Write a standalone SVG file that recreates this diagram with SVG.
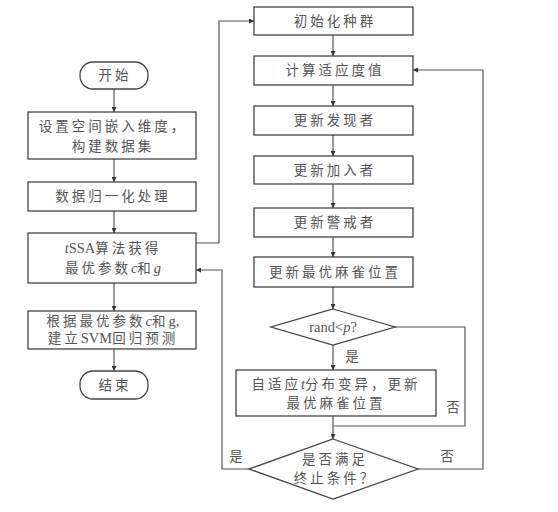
<svg xmlns="http://www.w3.org/2000/svg" width="558" height="512" viewBox="0 0 558 512">
<defs>
<marker id="arr" viewBox="0 0 8 8" refX="8" refY="4" markerWidth="5" markerHeight="5" orient="auto" markerUnits="userSpaceOnUse">
<path d="M0,0 L8,4 L0,8 z" fill="#333"/>
</marker>
<style>
.box{fill:#fff;stroke:#444;stroke-width:1.3}
.ln{fill:none;stroke:#555;stroke-width:1.2}
.ar{fill:none;stroke:#555;stroke-width:1.2;marker-end:url(#arr)}
text{font-family:"Liberation Serif","Noto Sans CJK SC",serif;font-size:13.5px;fill:#555;text-anchor:middle;letter-spacing:3px}
.lab{letter-spacing:0}
.l{letter-spacing:0;font-size:14.5px}
.i{font-style:italic;letter-spacing:0;font-size:14.5px}
</style>
</defs>
<rect width="558" height="512" fill="#fff"/>
<g id="connectors">
<line class="ar" x1="114" y1="89" x2="114" y2="112"/>
<line class="ar" x1="114" y1="159" x2="114" y2="182"/>
<line class="ar" x1="114" y1="211" x2="114" y2="233"/>
<line class="ar" x1="114" y1="283" x2="114" y2="311"/>
<line class="ar" x1="114" y1="349" x2="114" y2="371"/>
<polyline class="ar" points="196,243 219,243 219,21 254,21"/>
<line class="ar" x1="333" y1="35" x2="333" y2="56"/>
<line class="ar" x1="333" y1="85" x2="333" y2="106"/>
<line class="ar" x1="333" y1="135" x2="333" y2="156"/>
<line class="ar" x1="333" y1="184" x2="333" y2="208"/>
<line class="ar" x1="333" y1="237" x2="333" y2="257"/>
<line class="ar" x1="333" y1="287" x2="333" y2="309"/>
<line class="ar" x1="333" y1="345" x2="333" y2="370"/>
<polyline class="ln" points="395,327 465,327 465,426 333,426"/>
<line class="ar" x1="333" y1="416" x2="333" y2="439"/>
<polyline class="ar" points="249,469 222,469 222,270 196,270"/>
<polyline class="ar" points="418,469 483,469 483,70 413,70"/>
<text class="lab" x="352" y="361">是</text>
<text class="lab" x="453" y="412">否</text>
<text class="lab" x="236" y="461">是</text>
<text class="lab" x="447" y="461">否</text>
</g>
<g id="start"><rect class="box" x="80" y="62" width="68" height="27" rx="13"/><text x="115" y="80">开始</text></g>
<g id="setdim"><rect class="box" x="28" y="112" width="168" height="47"/><text x="113" y="131">设置空间嵌入维度，</text><text x="113" y="151">构建数据集</text></g>
<g id="normalize"><rect class="box" x="28" y="182" width="168" height="29"/><text x="113" y="201">数据归一化处理</text></g>
<g id="tssa"><rect class="box" x="28" y="233" width="168" height="50"/><text x="113" y="253"><tspan class="i">t</tspan><tspan class="l">SSA</tspan>算法获得</text><text x="113" y="273">最优参数<tspan class="i">c</tspan>和<tspan class="i">g</tspan></text></g>
<g id="svm"><rect class="box" x="28" y="311" width="168" height="38"/><text x="113" y="326">根据最优参数<tspan class="i">c</tspan>和<tspan class="l">g,</tspan></text><text x="113" y="343">建立<tspan class="l">SVM</tspan>回归预测</text></g>
<g id="end"><rect class="box" x="80" y="371" width="68" height="28" rx="13"/><text x="115" y="390">结束</text></g>
<g id="init"><rect class="box" x="254" y="7" width="159" height="28"/><text x="335" y="26">初始化种群</text></g>
<g id="fitness"><rect class="box" x="254" y="56" width="159" height="29"/><text x="335" y="75">计算适应度值</text></g>
<g id="discover"><rect class="box" x="254" y="106" width="159" height="29"/><text x="335" y="125">更新发现者</text></g>
<g id="joiner"><rect class="box" x="254" y="156" width="159" height="28"/><text x="335" y="175">更新加入者</text></g>
<g id="guard"><rect class="box" x="254" y="208" width="159" height="29"/><text x="335" y="227">更新警戒者</text></g>
<g id="best"><rect class="box" x="254" y="257" width="159" height="30"/><text x="335" y="277">更新最优麻雀位置</text></g>
<g id="randp"><polygon class="box" points="333,309 395,327 333,345 271,327"/><text class="lab" x="333" y="332" style="font-size:14.5px">rand&lt;<tspan font-style="italic">p</tspan>?</text></g>
<g id="mutate"><rect class="box" x="236" y="370" width="200" height="46"/><text x="336" y="389">自适应<tspan class="i">t</tspan>分布变异，更新</text><text x="336" y="408">最优麻雀位置</text></g>
<g id="stop"><polygon class="box" points="333,439 418,469 333,499 249,469"/><text x="335" y="464">是否满足</text><text x="335" y="483">终止条件？</text></g>
</svg>
